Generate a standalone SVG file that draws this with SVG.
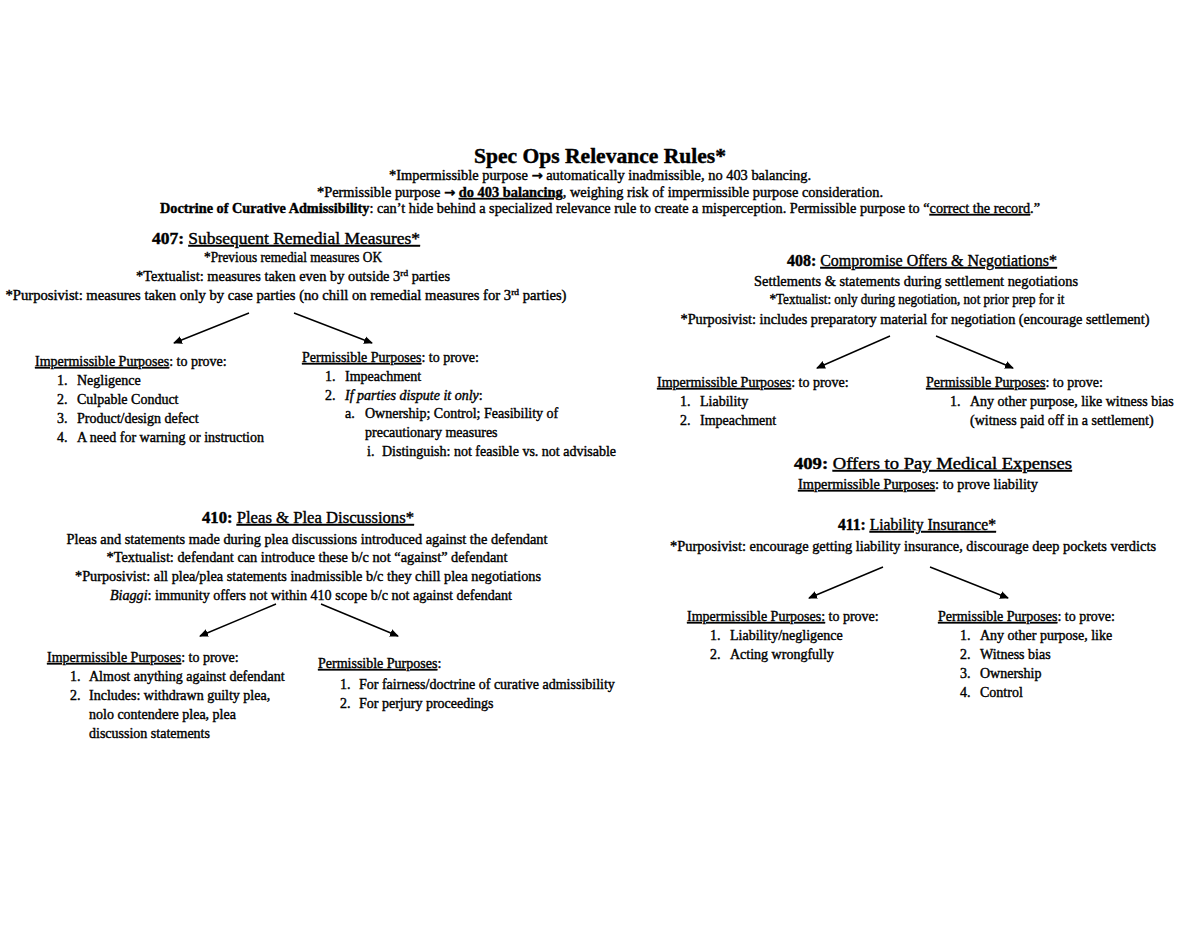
<svg xmlns="http://www.w3.org/2000/svg" width="1200" height="927" viewBox="0 0 1200 927">
<style>
text{font-family:"Liberation Serif","Times New Roman",serif;font-size:14px;fill:#000;stroke:#000;stroke-width:0.4}
.c{text-anchor:middle;font-size:14px}
.t{font-size:16px}
.title{font-size:20px;font-weight:bold}
.b{font-weight:bold}
.u{text-decoration:underline}
.i{font-style:italic}
.sup{font-size:9px}
.arr{font-family:"DejaVu Sans",sans-serif;font-weight:bold;font-size:13px}
.conn line{stroke:#000;stroke-width:1.4}
</style>
<defs>
<marker id="ah" markerWidth="10" markerHeight="10" refX="8" refY="5" orient="auto" markerUnits="userSpaceOnUse">
<path d="M0,1 L9,5 L0,9 Z" fill="#000"/>
</marker>
</defs>
<rect width="1200" height="927" fill="#fff"/>

<g id="header">
<text class="c title" x="600" y="163" textLength="252" lengthAdjust="spacingAndGlyphs">Spec Ops Relevance Rules*</text>
<text class="c" x="600" y="180" textLength="422" lengthAdjust="spacingAndGlyphs">*Impermissible purpose <tspan class="arr">→</tspan> automatically inadmissible, no 403 balancing.</text>
<text class="c" x="600" y="197" textLength="566" lengthAdjust="spacingAndGlyphs">*Permissible purpose <tspan class="arr">→</tspan> <tspan class="b u">do 403 balancing</tspan>, weighing risk of impermissible purpose consideration.</text>
<text class="c" x="600" y="213" textLength="880" lengthAdjust="spacingAndGlyphs"><tspan class="b">Doctrine of Curative Admissibility</tspan>: can’t hide behind a specialized relevance rule to create a misperception. Permissible purpose to “<tspan class="u">correct the record</tspan>.”</text>
</g>

<g id="n407">
<text class="c t" x="286" y="244" textLength="268" lengthAdjust="spacingAndGlyphs"><tspan class="b">407:</tspan> <tspan class="u">Subsequent Remedial Measures*</tspan></text>
<text class="c" x="293" y="262" textLength="178" lengthAdjust="spacingAndGlyphs">*Previous remedial measures OK</text>
<text class="c" x="293" y="281" textLength="314" lengthAdjust="spacingAndGlyphs">*Textualist: measures taken even by outside 3<tspan class="sup" dy="-5">rd</tspan><tspan dy="5"> parties</tspan></text>
<text class="c" x="286" y="300" textLength="561" lengthAdjust="spacingAndGlyphs">*Purposivist: measures taken only by case parties (no chill on remedial measures for 3<tspan class="sup" dy="-5">rd</tspan><tspan dy="5"> parties)</tspan></text>
</g>

<g id="n407-imp">
<text x="35" y="366"><tspan class="u">Impermissible Purposes</tspan>: to prove:</text>
<text x="57" y="385">1.<tspan x="77">Negligence</tspan></text>
<text x="57" y="404">2.<tspan x="77">Culpable Conduct</tspan></text>
<text x="57" y="423">3.<tspan x="77">Product/design defect</tspan></text>
<text x="57" y="442">4.<tspan x="77">A need for warning or instruction</tspan></text>
</g>

<g id="n407-perm">
<text x="302" y="362"><tspan class="u">Permissible Purposes</tspan>: to prove:</text>
<text x="325" y="381">1.<tspan x="345">Impeachment</tspan></text>
<text x="325" y="400">2.<tspan x="345" class="i">If parties dispute it only</tspan>:</text>
<text x="345" y="418">a.<tspan x="365">Ownership; Control; Feasibility of</tspan></text>
<text x="365" y="437">precautionary measures</text>
<text x="367" y="456">i.<tspan x="382">Distinguish: not feasible vs. not advisable</tspan></text>
</g>

<g id="n408">
<text class="c t" x="922" y="266" textLength="270" lengthAdjust="spacingAndGlyphs"><tspan class="b">408:</tspan> <tspan class="u">Compromise Offers &amp; Negotiations*</tspan></text>
<text class="c" x="916" y="286" textLength="324" lengthAdjust="spacingAndGlyphs">Settlements &amp; statements during settlement negotiations</text>
<text class="c" x="917" y="304" textLength="295" lengthAdjust="spacingAndGlyphs">*Textualist: only during negotiation, not prior prep for it</text>
<text class="c" x="915" y="324" textLength="469" lengthAdjust="spacingAndGlyphs">*Purposivist: includes preparatory material for negotiation (encourage settlement)</text>
</g>

<g id="n408-imp">
<text x="657" y="387"><tspan class="u">Impermissible Purposes</tspan>: to prove:</text>
<text x="680" y="406">1.<tspan x="700">Liability</tspan></text>
<text x="680" y="425">2.<tspan x="700">Impeachment</tspan></text>
</g>

<g id="n408-perm">
<text x="926" y="387"><tspan class="u">Permissible Purposes</tspan>: to prove:</text>
<text x="950" y="406">1.<tspan x="970">Any other purpose, like witness bias</tspan></text>
<text x="970" y="425">(witness paid off in a settlement)</text>
</g>

<g id="n409">
<text class="c t" x="933" y="469" textLength="278" lengthAdjust="spacingAndGlyphs"><tspan class="b">409:</tspan> <tspan class="u">Offers to Pay Medical Expenses</tspan></text>
<text class="c" x="918" y="489" textLength="240" lengthAdjust="spacingAndGlyphs"><tspan class="u">Impermissible Purposes</tspan>: to prove liability</text>
</g>

<g id="n411">
<text class="c t" x="917" y="530" textLength="158" lengthAdjust="spacingAndGlyphs"><tspan class="b">411:</tspan> <tspan class="u">Liability Insurance*</tspan></text>
<text class="c" x="913" y="551" textLength="486" lengthAdjust="spacingAndGlyphs">*Purposivist: encourage getting liability insurance, discourage deep pockets verdicts</text>
</g>

<g id="n411-imp">
<text x="687" y="621"><tspan class="u">Impermissible Purposes:</tspan> to prove:</text>
<text x="710" y="640">1.<tspan x="730">Liability/negligence</tspan></text>
<text x="710" y="659">2.<tspan x="730">Acting wrongfully</tspan></text>
</g>

<g id="n411-perm">
<text x="938" y="621"><tspan class="u">Permissible Purposes</tspan>: to prove:</text>
<text x="960" y="640">1.<tspan x="980">Any other purpose, like</tspan></text>
<text x="960" y="659">2.<tspan x="980">Witness bias</tspan></text>
<text x="960" y="678">3.<tspan x="980">Ownership</tspan></text>
<text x="960" y="697">4.<tspan x="980">Control</tspan></text>
</g>

<g id="n410">
<text class="c t" x="308" y="523" textLength="212" lengthAdjust="spacingAndGlyphs"><tspan class="b">410:</tspan> <tspan class="u">Pleas &amp; Plea Discussions*</tspan></text>
<text class="c" x="307" y="544" textLength="481" lengthAdjust="spacingAndGlyphs">Pleas and statements made during plea discussions introduced against the defendant</text>
<text class="c" x="307" y="562" textLength="401" lengthAdjust="spacingAndGlyphs">*Textualist: defendant can introduce these b/c not “against” defendant</text>
<text class="c" x="308" y="581" textLength="466" lengthAdjust="spacingAndGlyphs">*Purposivist: all plea/plea statements inadmissible b/c they chill plea negotiations</text>
<text class="c" x="311" y="600" textLength="402" lengthAdjust="spacingAndGlyphs"><tspan class="i">Biaggi</tspan>: immunity offers not within 410 scope b/c not against defendant</text>
</g>

<g id="n410-imp">
<text x="47" y="662"><tspan class="u">Impermissible Purposes</tspan>: to prove:</text>
<text x="70" y="681">1.<tspan x="89">Almost anything against defendant</tspan></text>
<text x="70" y="700">2.<tspan x="89">Includes: withdrawn guilty plea,</tspan></text>
<text x="89" y="719">nolo contendere plea, plea</text>
<text x="89" y="738">discussion statements</text>
</g>

<g id="n410-perm">
<text x="318" y="668"><tspan class="u">Permissible Purposes</tspan>:</text>
<text x="340" y="689">1.<tspan x="359">For fairness/doctrine of curative admissibility</tspan></text>
<text x="340" y="708">2.<tspan x="359">For perjury proceedings</tspan></text>
</g>

<g id="connectors" class="conn">
<line x1="249" y1="313" x2="174" y2="343" marker-end="url(#ah)"/>
<line x1="294" y1="313" x2="372" y2="343" marker-end="url(#ah)"/>
<line x1="890" y1="336" x2="817" y2="368" marker-end="url(#ah)"/>
<line x1="936" y1="336" x2="1013" y2="368" marker-end="url(#ah)"/>
<line x1="883" y1="567" x2="809" y2="598" marker-end="url(#ah)"/>
<line x1="930" y1="567" x2="1008" y2="598" marker-end="url(#ah)"/>
<line x1="276" y1="604" x2="200" y2="636" marker-end="url(#ah)"/>
<line x1="321" y1="604" x2="398" y2="636" marker-end="url(#ah)"/>
</g>
</svg>
